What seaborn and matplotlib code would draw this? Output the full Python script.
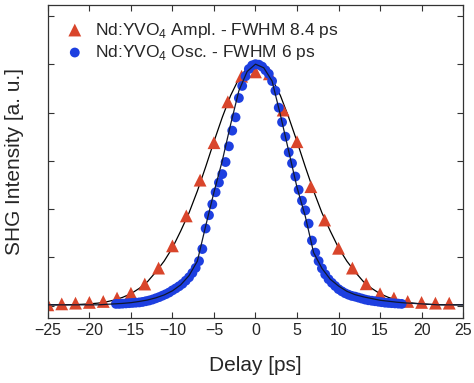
import matplotlib
matplotlib.use("Agg")
import matplotlib.pyplot as plt
import seaborn as sns

# amplifier autocorrelation (red triangles)
ampl_delay = [-25, -23.33, -21.67, -20, -18.33, -16.67, -15, -13.33, -11.67, -10,
              -8.33, -6.67, -5, -3.33, -1.67, 0, 1.67, 3.33, 5, 6.67,
              8.33, 10, 11.67, 13.33, 15, 16.67, 18.33, 20, 21.67, 23.33]
ampl_shg = [0.004, 0.008, 0.011, 0.014, 0.018, 0.032, 0.052, 0.09, 0.156, 0.248,
            0.372, 0.52, 0.675, 0.844, 0.95, 0.968, 0.96, 0.81, 0.679, 0.493,
            0.355, 0.238, 0.156, 0.091, 0.05, 0.032, 0.018, 0.014, 0.011, 0.011]

# oscillator autocorrelation (blue dots)
osc_delay = [-16.8, -16.4, -16.0, -15.6, -15.2, -14.8, -14.4, -14.0, -13.6, -13.2,
             -12.8, -12.4, -12.0, -11.6, -11.2, -10.8, -10.4, -10.0, -9.6, -9.2,
             -8.8, -8.4, -8.0, -7.6, -7.2, -6.8, -6.4, -6.0, -5.6, -5.2,
             -4.8, -4.4, -4.0, -3.6, -3.2, -2.8, -2.4, -2.0, -1.6, -1.2,
             -0.8, -0.4, 0.0, 0.4, 0.8, 1.2, 1.6, 2.0, 2.4, 2.8,
             3.2, 3.6, 4.0, 4.4, 4.8, 5.2, 5.6, 6.0, 6.4, 6.8,
             7.2, 7.6, 8.0, 8.4, 8.8, 9.2, 9.6, 10.0, 10.4, 10.8,
             11.2, 11.6, 12.0, 12.4, 12.8, 13.2, 13.6, 14.0, 14.4, 14.8,
             15.2, 15.6, 16.0, 16.4, 16.8, 17.2, 17.6]
osc_shg = [0.008, 0.008, 0.009, 0.010, 0.011, 0.012, 0.013, 0.014, 0.016, 0.019,
           0.022, 0.026, 0.031, 0.036, 0.042, 0.048, 0.055, 0.064, 0.072, 0.081,
           0.091, 0.104, 0.118, 0.136, 0.157, 0.185, 0.235, 0.32, 0.375, 0.42,
           0.47, 0.51, 0.545, 0.595, 0.66, 0.725, 0.78, 0.86, 0.91, 0.95,
           0.98, 0.995, 1.0, 0.998, 0.99, 0.975, 0.96, 0.93, 0.89, 0.82,
           0.76, 0.70, 0.635, 0.59, 0.535, 0.48, 0.435, 0.395, 0.34, 0.27,
           0.22, 0.185, 0.155, 0.13, 0.11, 0.095, 0.082, 0.069, 0.06, 0.052,
           0.046, 0.041, 0.038, 0.034, 0.03, 0.026, 0.023, 0.021, 0.019, 0.017,
           0.015, 0.013, 0.012, 0.011, 0.01, 0.009, 0.008]

# fitted curves
fit_delay = list(range(-25, 26))
ampl_fit = [0.004, 0.004, 0.004, 0.005, 0.006, 0.008, 0.011, 0.016, 0.024, 0.035,
            0.05, 0.072, 0.1, 0.14, 0.185, 0.24, 0.31, 0.385, 0.475, 0.575,
            0.68, 0.78, 0.87, 0.94, 0.985, 1.0, 0.985, 0.94, 0.87, 0.78,
            0.68, 0.575, 0.475, 0.385, 0.31, 0.24, 0.185, 0.14, 0.1, 0.072,
            0.05, 0.035, 0.024, 0.016, 0.011, 0.008, 0.006, 0.005, 0.004, 0.004,
            0.004]
osc_fit = [0.004, 0.004, 0.004, 0.004, 0.004, 0.004, 0.004, 0.006, 0.008, 0.01,
           0.013, 0.018, 0.024, 0.033, 0.045, 0.062, 0.087, 0.125, 0.185, 0.33,
           0.47, 0.6, 0.75, 0.89, 0.97, 1.0, 0.985, 0.93, 0.79, 0.64,
           0.49, 0.37, 0.22, 0.155, 0.11, 0.082, 0.06, 0.046, 0.037, 0.03,
           0.023, 0.019, 0.015, 0.012, 0.01, 0.008, 0.006, 0.004, 0.004, 0.004,
           0.004]

RED = "#d9452b"
BLUE = "#1d3fe0"


def main():
    sns.set_style("ticks")
    plt.rcParams["font.family"] = ["Liberation Sans", "DejaVu Sans"]
    plt.rcParams["mathtext.fontset"] = "custom"
    plt.rcParams["mathtext.rm"] = "Liberation Sans"

    fig = plt.figure(figsize=(4.74, 3.83), dpi=100)
    ax = fig.add_axes([0.101, 0.17, 0.876, 0.817])

    # fit lines under the markers
    sns.lineplot(x=fit_delay, y=ampl_fit, color="black", lw=0.9, ax=ax, zorder=1)

    sns.scatterplot(x=ampl_delay, y=ampl_shg, marker="^", s=85, color=RED,
                    edgecolor="none", ax=ax, zorder=2,
                    label="Nd:YVO$_4$ Ampl. - FWHM 8.4 ps")
    sns.scatterplot(x=osc_delay, y=osc_shg, marker="o", s=50, color=BLUE,
                    edgecolor="none", ax=ax, zorder=3,
                    label="Nd:YVO$_4$ Osc. - FWHM 6 ps")
    sns.lineplot(x=fit_delay, y=osc_fit, color="#101830", lw=0.9, ax=ax, zorder=4)

    ax.set_xlim(-25, 25)
    ax.set_ylim(-0.05, 1.245)
    ax.set_xticks(range(-25, 26, 5))
    ax.set_yticks([0, 0.2, 0.4, 0.6, 0.8, 1.0, 1.2])
    ax.set_yticklabels([])
    ax.tick_params(direction="in", top=True, right=True, length=4, width=0.8,
                   labelsize=11.5, color="#333333")
    for sp in ax.spines.values():
        sp.set_linewidth(0.9)
        sp.set_color("#333333")

    ax.set_xlabel("Delay [ps]", fontsize=15, labelpad=13)
    ax.set_ylabel("SHG Intensity [a. u.]", fontsize=15, labelpad=14)

    ax.legend(loc="upper left", frameon=False, fontsize=12.5, handletextpad=0.5,
              borderaxespad=0.4, labelspacing=0.2, handlelength=1.3,
              borderpad=0.5)

    fig.savefig("out.png", dpi=100)


if __name__ == '__main__':
    main()
